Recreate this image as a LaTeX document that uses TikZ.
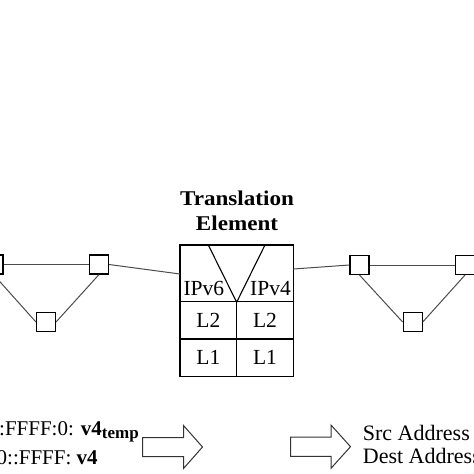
\documentclass[tikz,border=0pt]{standalone}
\usepackage{fontspec}
\usepackage{graphicx}
\setmainfont{Liberation Serif}
\begin{document}
\begin{tikzpicture}[x=1pt,y=-1pt,
  sq/.style={draw=black, line width=1.1pt, minimum size=19pt, inner sep=0pt, fill=white},
  link/.style={draw=black!70, line width=1pt},
  frame/.style={draw=black, line width=1.1pt, inner sep=0pt},
  cell/.style={frame, minimum width=56.65pt, minimum height=37.3pt, font=\fontsize{21.5}{22}\selectfont},
  lbl/.style={inner sep=0pt, font=\fontsize{21.5}{22}\selectfont},
  titletxt/.style={inner sep=0pt, anchor=base, font=\fontsize{21}{22}\selectfont\bfseries},
  addr/.style={inner sep=0pt, anchor=base west, font=\fontsize{21}{22}\selectfont},
  addrr/.style={inner sep=0pt, anchor=base west, font=\fontsize{22}{23}\selectfont},
  blockarrow/.style={draw=black!80, line width=1pt, line join=miter}
]
\useasboundingbox (0,0) rectangle (474,474);

% left network
\node[sq] (la) at (-6.5,264.5) {};
\node[sq] (lb) at (99,264.5) {};
\node[sq] (lc) at (46,322) {};
\draw[link] (la) -- (lb);
\draw[link] (la.south) -- (lc.west);
\draw[link] (lb.south) -- (lc.east);

% right network
\node[sq] (ra) at (359.5,265) {};
\node[sq] (rb) at (465,265) {};
\node[sq] (rc) at (412.7,322) {};
\draw[link] (ra) -- (rb);
\draw[link] (ra.south) -- (rc.west);
\draw[link] (rb.south) -- (rc.east);

% translation element
\node[titletxt] (t1) at (237,205) {\scalebox{1.1}[1]{Translation}};
\node[titletxt] (t2) at (237,230) {\scalebox{1.1}[1]{Element}};

\node[frame, minimum width=113.3pt, minimum height=56.7pt] (top) at (236.65,273.35) {};
\node[cell] (l2a) at (208.325,320.35) {L2};
\node[cell] (l2b) at (264.975,320.35) {L2};
\node[cell] (l1a) at (208.325,357.65) {L1};
\node[cell] (l1b) at (264.975,357.65) {L1};
\coordinate (vl) at (208.325,245);
\coordinate (vr) at (264.975,245);
\draw[line width=1.1pt] (vl) -- (top.south) -- (vr);
\node[lbl, anchor=base west] (v6) at (183.3,295) {IPv6};
\node[lbl, anchor=base east] (v4) at (291,295) {IPv4};

\coordinate (bl) at (180,274);
\coordinate (br) at (293.3,269);
\draw[link] (lb.east) -- (bl);
\draw[link] (br) -- (ra.west);

% block arrows
\draw[blockarrow] (142.5,437.5) -- (183.5,437.5) -- (183.5,425.5) -- (202.5,447) -- (183.5,468.5) -- (183.5,456.5) -- (142.5,456.5) -- cycle;
\draw[blockarrow] (290.5,437) -- (331,437) -- (331,425) -- (350.5,446.7) -- (331,468.3) -- (331,456.3) -- (290.5,456.3) -- cycle;

% addresses
\node[addr] (s1) at (-1,435) {:FFFF:0: \textbf{v4}\raisebox{-3pt}{\fontsize{17}{17}\selectfont\bfseries temp}};
\node[addr] (s2) at (-3.5,464) {0::FFFF: \textbf{v4}};
\node[addrr] (d1) at (362.7,440) {Src Address};
\node[addrr] (d2) at (362.7,463.5) {Dest Address};
\end{tikzpicture}
\end{document}
